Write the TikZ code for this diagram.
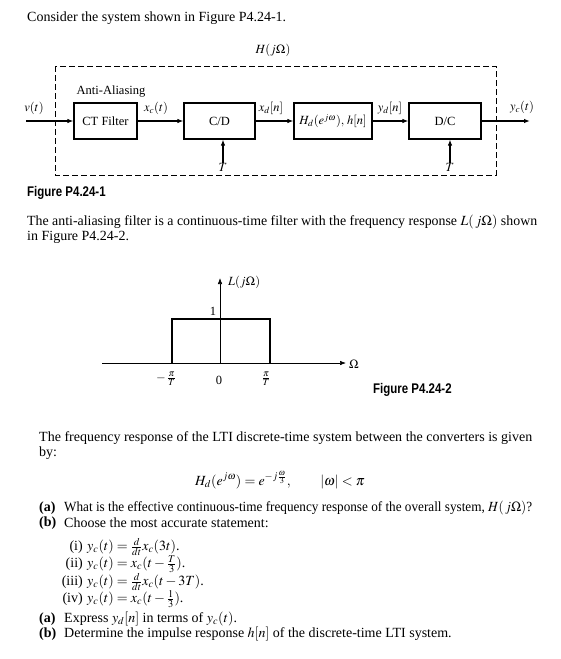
\documentclass[tikz,border=0pt]{standalone}
\usepackage{mathptmx}
\usepackage{graphicx}
\usepackage{fontspec}
\setmainfont{Liberation Serif}
\newfontfamily\figfont[FakeStretch=0.82]{Liberation Sans}
\usetikzlibrary{arrows.meta}
\newcommand{\fitw}[2]{\resizebox{#1}{\height}{#2}}
\begin{document}
\begin{tikzpicture}[x=1pt,y=-1pt,
  txt/.style={anchor=west,inner sep=0pt,font=\fontsize{14}{15}\selectfont},
  figlbl/.style={anchor=west,inner sep=0pt,font=\figfont\bfseries\fontsize{14}{15}\selectfont},
  blk/.style={draw,line width=1.2pt,minimum height=36pt,inner sep=0pt,font=\fontsize{12.5}{14}\selectfont},
  sig/.style={inner sep=0pt,font=\fontsize{12.5}{14}\selectfont},
  conn/.style={line width=1.1pt,-{Latex[length=6pt,width=4.5pt]}},
  frame/.style={line width=0.7pt,dash pattern=on 6pt off 3pt},
  axis/.style={line width=0.6pt,-{Latex[length=6pt,width=4.5pt]}},
  rectl/.style={line width=1.2pt}
]
\useasboundingbox (0,0) rectangle (561,659);

% ---------- Figure P4.24-1 ----------
\node[txt] (t1) at (27,18) {Consider the system shown in Figure P4.24-1.};
\node[sig] (Hlbl) at (273,50) {$H(j\Omega)$};
\draw[frame] (55,66) rectangle (496,175);

\node[blk,minimum width=63pt] (ct) at (105.5,121) {CT Filter};
\node[blk,minimum width=71pt] (cd) at (219.5,121) {C/D};
\node[blk,minimum width=78pt] (hd) at (333,121) {$H_d(e^{j\omega}),\, h[n]$};
\node[blk,minimum width=72pt] (dc) at (445,121) {D/C};

\node[sig] (aa) at (111,92) {Anti-Aliasing};

\coordinate (vin) at (26,121);
\coordinate (yout) at (530,121);
\draw[conn] (vin) -- (ct);
\draw[conn] (ct) -- (cd);
\draw[conn] (cd) -- (hd);
\draw[conn] (hd) -- (dc);
\draw[conn] (dc) -- (yout);

\node[sig] (vl) at (34,108) {$v(t)$};
\node[sig] (xcl) at (156,108) {$x_c(t)$};
\node[sig] (xdl) at (271,108) {$x_d[n]$};
\node[sig] (ydl) at (390,108) {$y_d[n]$};
\node[sig] (ycl) at (522,107) {$y_c(t)$};

\node[sig] (T1) at (223,167) {$T$};
\node[sig] (T2) at (450,167) {$T$};
\draw[conn] (T1.north) -- (T1.north |- cd.south);
\draw[conn] (T2.north) -- (T2.north |- dc.south);

\node[figlbl] (f1) at (27,193) {Figure P4.24-1};

\node[txt] (t2) at (27,222) {\fitw{510pt}{The anti-aliasing filter is a continuous-time filter with the frequency response $L(\,j\Omega)$ shown}};
\node[txt] (t3) at (27,237) {in Figure P4.24-2.};

% ---------- Figure P4.24-2 ----------
\draw[axis] (102,363) -- (346,363);
\draw[axis] (220,363) -- (220,278);
\draw[rectl] (172,363) -- (172,319) -- (270,319) -- (270,363);
\node[sig,anchor=west] (Ll) at (228,282) {$L(j\Omega)$};
\node[sig] (one) at (213,311) {1};
\node[sig,anchor=west] (Om) at (349,364) {$\Omega$};
\node[sig] (mpt) at (166,379) {$-\,\frac{\pi}{T}$};
\node[sig] (zero) at (219,380) {0};
\node[sig] (ppt) at (266,379) {$\frac{\pi}{T}$};
\node[figlbl] (f2) at (373,390) {Figure P4.24-2};

% ---------- text ----------
\node[txt] (t4) at (39,438) {\fitw{493pt}{The frequency response of the LTI discrete-time system between the converters is given}};
\node[txt] (t5) at (39,453) {by:};
\node[txt] (eq) at (195,480) {$H_d(e^{j\omega}) = e^{-j\frac{\omega}{3}}, \qquad |\omega| < \pi$};

\node[txt] (qa) at (39,508) {\textbf{(a)}};
\node[txt] (qat) at (64,508) {\fitw{468pt}{What is the effective continuous-time frequency response of the overall system, $H(\,j\Omega)$?}};
\node[txt] (qb) at (39,523) {\textbf{(b)}};
\node[txt] (qbt) at (64,523) {Choose the most accurate statement:};

\node[txt,anchor=east] (i1) at (83,547) {(i)};
\node[txt] (i1t) at (87,547) {$y_c(t) = \frac{d}{dt}x_c(3t)$.};
\node[txt,anchor=east] (i2) at (83,564) {(ii)};
\node[txt] (i2t) at (87,564) {$y_c(t) = x_c(t - \frac{T}{3})$.};
\node[txt,anchor=east] (i3) at (83,582) {(iii)};
\node[txt] (i3t) at (87,582) {$y_c(t) = \frac{d}{dt}x_c(t - 3T)$.};
\node[txt,anchor=east] (i4) at (83,599) {(iv)};
\node[txt] (i4t) at (87,599) {$y_c(t) = x_c(t - \frac{1}{3})$.};

\node[txt] (qc) at (39,619) {\textbf{(a)}};
\node[txt] (qct) at (64,619) {Express $y_d[n]$ in terms of $y_c(t)$.};
\node[txt] (qd) at (39,634) {\textbf{(b)}};
\node[txt] (qdt) at (64,634) {Determine the impulse response $h[n]$ of the discrete-time LTI system.};
\end{tikzpicture}
\end{document}
